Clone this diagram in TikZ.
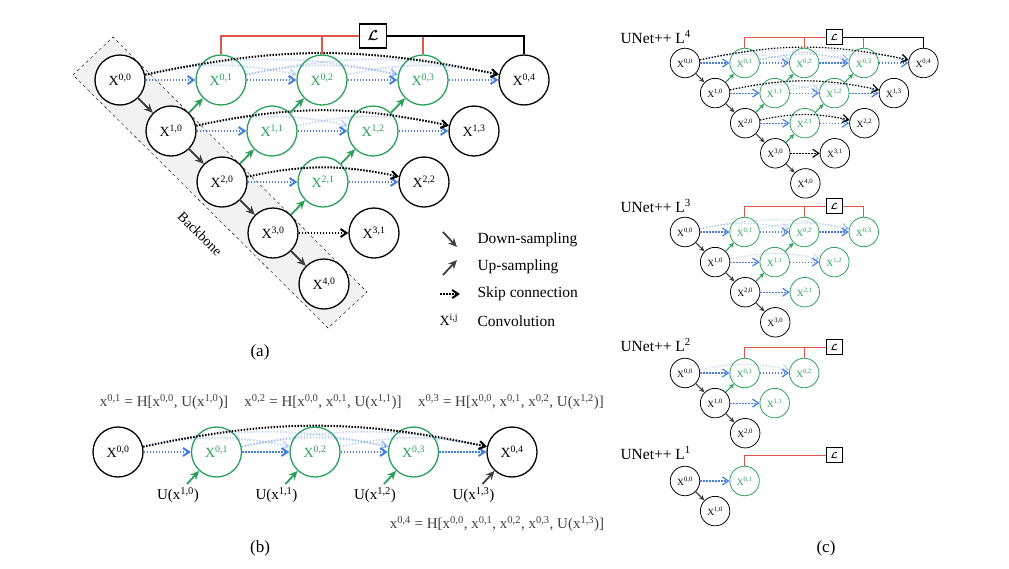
\documentclass[tikz,border=0pt]{standalone}
\usepackage{fontspec}
\setmainfont{Liberation Serif}
\usetikzlibrary{arrows.meta}
\definecolor{gn}{RGB}{40,160,90}
\definecolor{bl}{RGB}{70,125,225}
\definecolor{rd}{RGB}{225,85,75}
\definecolor{dg}{RGB}{64,64,64}
\newcommand\unetfig[6]{% prefix, x0, y0, scale, L, fontsize
\begin{scope}[every node/.style={}]
\foreach \i in {0,...,#5}{%
 \pgfmathtruncatemacro\jm{#5-\i}%
 \foreach \j in {0,...,\jm}{%
  \pgfmathtruncatemacro\sm{\i+\j}%
  \ifnum\j>0 \ifnum\sm<4 \def\cc{gn}\else\def\cc{black}\fi\else\def\cc{black}\fi
  \node[circle,draw=\cc,text=\cc,fill=white,line width=1.3*#4pt,minimum size=50*#4pt,inner sep=0pt,font=\fontsize{#6}{#6}\selectfont]
   (#1-\i-\j) at ({#2+(51*\i+101*\j)*#4},{#3+51*\i*#4}) {X\textsuperscript{\i,\j}};
 }}
\foreach \i in {0,...,#5}{%
 \pgfmathtruncatemacro\jm{#5-\i}%
 \pgfmathtruncatemacro\sm{\i+\jm}%
 \ifnum\jm>0
  \ifnum\jm=1 \ifnum\sm=4
    \draw[skipk,line width=2*#4pt] (#1-\i-0) -- (#1-\i-1);
  \else
    \draw[skipb,line width=2*#4pt] (#1-\i-0) -- (#1-\i-1);
  \fi\else
   \foreach \j in {1,...,\jm}{\pgfmathtruncatemacro\jp{\j-1}
     \draw[skipb,line width=2*#4pt] (#1-\i-\jp) -- (#1-\i-\j);}
   \pgfmathtruncatemacro\jmm{\jm-1}
   \foreach \k in {0,...,\jmm}{\pgfmathtruncatemacro\ks{\k+2}
     \ifnum\ks>\jm\else
     \foreach \j in {\ks,...,\jm}{
      \ifnum\j=\jm\ifnum\k=0\ifnum\sm=4\else
      \draw[skipb,opacity=.3,line width=1.8*#4pt,bend left=12] (#1-\i-\k) to (#1-\i-\j);\fi\else
      \draw[skipb,opacity=.3,line width=1.8*#4pt,bend left=12] (#1-\i-\k) to (#1-\i-\j);\fi\else
      \draw[skipb,opacity=.3,line width=1.8*#4pt,bend left=12] (#1-\i-\k) to (#1-\i-\j);\fi}\fi}
   \ifnum\sm=4
    \draw[skipk,line width=2*#4pt,bend left=12] (#1-\i-0) to (#1-\i-\jm);
   \fi
  \fi
  \pgfmathtruncatemacro\ip{\i+1}
  \draw[-{Stealth[length=9*#4pt,width=8*#4pt]},dg,line width=1.8*#4pt,shorten <=-1pt] (#1-\i-0) -- (#1-\ip-0);
 \fi
 \ifnum\i>0 \ifnum\jm>0 \foreach \j in {1,...,\jm}{%
   \pgfmathtruncatemacro\im{\i-1}\pgfmathtruncatemacro\jq{\j-1}\pgfmathtruncatemacro\sq{\im+\j}%
   \ifnum\sq<4 \def\cc{gn}\else\def\cc{dg}\fi
   \draw[-{Stealth[length=9*#4pt,width=8*#4pt]},\cc,line width=1.8*#4pt] (#1-\i-\jq) -- (#1-\im-\j);}\fi\fi
}
\node[draw,line width=1.8*#4pt,fill=white,minimum width=27*#4pt,minimum height=24*#4pt,inner sep=0pt,font=\fontsize{#6}{#6}\selectfont]
 (#1-loss) at ({#2+253*#4},{#3-44*#4}) {$\boldsymbol{\mathcal{L}}$};
\pgfmathtruncatemacro\lr{min(#5,3)}
\foreach \j in {1,...,\lr}{\draw[rd,line width=1.7*#4pt] (#1-0-\j.north) |- (#1-loss);}
\ifnum#5=4 \draw[black,line width=1.7*#4pt] (#1-0-4.north) |- (#1-loss);\fi
\end{scope}}
\usepackage{amsmath,bm}
\begin{document}
\begin{tikzpicture}[x=1pt,y=-1pt,
 skipb/.style={bl,dash pattern=on 1.5pt off 1.5pt,-{Straight Barb[length=6pt,width=8pt]}},
 skipk/.style={black,dash pattern=on 1.5pt off 1.5pt,-{Straight Barb[length=6pt,width=8pt]}}]
\useasboundingbox (0,0) rectangle (1009,568);
% backbone
\draw[dashed,fill=gray!10] (73,75)--(113,37)--(367,292)--(328,328)--cycle;
\node[rotate=-45,font=\fontsize{14}{14}\selectfont] (bb) at (200,234) {Backbone};
\unetfig{a}{120}{80}{1}{4}{14}
% legend
\coordinate (l1) at (443,232); \coordinate (l2) at (457,247);
\draw[-{Stealth[length=9pt,width=8pt]},dg,line width=1.8pt] (l1) -- (l2);
\coordinate (l3) at (443,275); \coordinate (l4) at (457,260);
\draw[-{Stealth[length=9pt,width=8pt]},dg,line width=1.8pt] (l3) -- (l4);
\coordinate (l5) at (440,294); \coordinate (l6) at (460,294);
\draw[skipk,line width=2pt] (l5) -- (l6);
\begin{scope}[every node/.style={anchor=west,font=\fontsize{15.5}{15.5}\selectfont}]
\node (t1) at (474,240) {Down-sampling};
\node (t2) at (474,267) {Up-sampling};
\node (t3) at (474,294) {Skip connection};
\node (t4) at (474,321) {Convolution};
\node[font=\fontsize{14}{14}\selectfont] (t5) at (436,320) {X\textsuperscript{i,j}};
\end{scope}
\node[font=\fontsize{17}{17}\selectfont] (la) at (260,352) {(a)};
% panel b
\foreach \j in {0,...,4}{
 \ifnum\j>0\ifnum\j<4\def\cc{gn}\else\def\cc{black}\fi\else\def\cc{black}\fi
 \node[circle,draw=\cc,text=\cc,fill=white,line width=1.3pt,minimum size=50pt,inner sep=0pt,font=\fontsize{14}{14}\selectfont]
   (b-\j) at (118+98.5*\j,452) {X\textsuperscript{0,\j}};}
\foreach \j in {1,...,4}{\pgfmathtruncatemacro\jp{\j-1}\draw[skipb,line width=2pt] (b-\jp) -- (b-\j);}
\foreach \k/\j in {0/2,0/3,1/3,1/4,2/4}{\draw[skipb,opacity=.3,line width=1.8pt,bend left=12] (b-\k) to (b-\j);}
\draw[skipk,line width=2pt,bend left=12] (b-0) to (b-4);
\foreach \j in {1,...,4}{\pgfmathtruncatemacro\jp{\j-1}
 \ifnum\j<4\def\cc{gn}\else\def\cc{dg}\fi
 \node[font=\fontsize{15}{15}\selectfont] (u-\j) at (178+98.5*\jp,495) {U(x\textsuperscript{1,\jp})};
 \coordinate (us-\j) at (187+98.5*\jp,484);
 \draw[-{Stealth[length=9pt,width=8pt]},\cc,line width=1.8pt] (us-\j) -- (b-\j);}
\begin{scope}[every node/.style={text=dg,font=\fontsize{15}{15}\selectfont}]
\node (e1) at (164,402) {x\textsuperscript{0,1} = H[x\textsuperscript{0,0}, U(x\textsuperscript{1,0})]};
\node (e2) at (323,402) {x\textsuperscript{0,2} = H[x\textsuperscript{0,0}, x\textsuperscript{0,1}, U(x\textsuperscript{1,1})]};
\node (e3) at (511,402) {x\textsuperscript{0,3} = H[x\textsuperscript{0,0}, x\textsuperscript{0,1}, x\textsuperscript{0,2}, U(x\textsuperscript{1,2})]};
\node (e4) at (497,524) {x\textsuperscript{0,4} = H[x\textsuperscript{0,0}, x\textsuperscript{0,1}, x\textsuperscript{0,2}, x\textsuperscript{0,3}, U(x\textsuperscript{1,3})]};
\end{scope}
\node[font=\fontsize{17}{17}\selectfont] (lb) at (260,548) {(b)};
% panel c
\unetfig{c4}{685}{63}{0.59}{4}{9.5}
\unetfig{c3}{685}{232}{0.59}{3}{9.5}
\unetfig{c2}{685}{373}{0.59}{2}{9.5}
\unetfig{c1}{685}{481}{0.59}{1}{9.5}
\begin{scope}[every node/.style={anchor=west,font=\fontsize{15.5}{15.5}\selectfont}]
\node (n4) at (617,37) {UNet++ L\textsuperscript{4}};
\node (n3) at (617,206) {UNet++ L\textsuperscript{3}};
\node (n2) at (617,345) {UNet++ L\textsuperscript{2}};
\node (n1) at (617,453) {UNet++ L\textsuperscript{1}};
\end{scope}
\node[font=\fontsize{17}{17}\selectfont] (lc) at (826,548) {(c)};
\end{tikzpicture}
\end{document}
